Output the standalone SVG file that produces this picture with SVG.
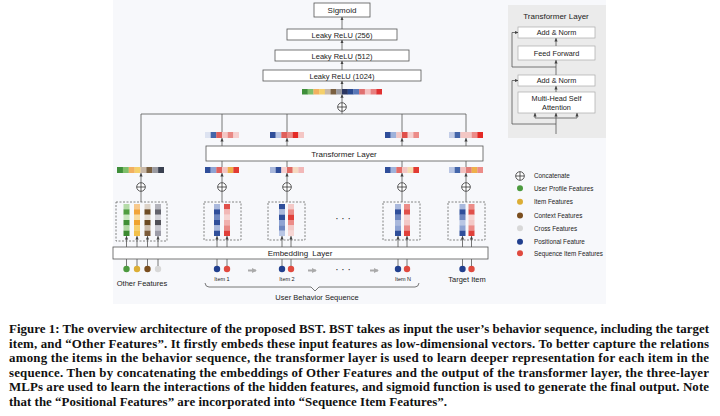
<svg xmlns="http://www.w3.org/2000/svg" width="720" height="416" viewBox="0 0 720 416">
<defs>
<marker id="ah" viewBox="0 0 6 6" refX="5.5" refY="3" markerWidth="3.6" markerHeight="3.6" markerUnits="userSpaceOnUse" orient="auto"><path d="M0,0.3 L6,3 L0,5.7 z" fill="#444"/></marker>
<marker id="ga" viewBox="0 0 6 6" refX="5" refY="3" markerWidth="5" markerHeight="5" markerUnits="userSpaceOnUse" orient="auto"><path d="M0,0 L6,3 L0,6 z" fill="#aaa"/></marker>
<g id="cat"><circle r="4.3" fill="#fff" stroke="#333" stroke-width="0.8"/><path d="M-4.3,0 H4.3 M0,-4.3 V4.3" stroke="#333" stroke-width="0.8"/></g>
</defs>
<style>
.sans{font-family:"Liberation Sans",Arial,sans-serif;fill:#222}
.box{fill:#fff;stroke:#555;stroke-width:0.8}
.tbox{fill:#fff;stroke:#aaa;stroke-width:0.7}
.ln{fill:none;stroke:#555;stroke-width:0.8}
.ar{fill:none;stroke:#555;stroke-width:0.8;marker-end:url(#ah)}
.dash{fill:none;stroke:#666;stroke-width:0.8;stroke-dasharray:2,1.5}
.cap{font-family:"Liberation Serif","Times New Roman",serif;font-weight:bold;font-size:12.9px;fill:#111}
</style>
<rect x="0" y="0" width="720" height="416" fill="#fff"/>
<rect x="113" y="0" width="493" height="304" fill="#f7f8fb"/>

<!-- MLP stack -->
<g id="sigmoid"><rect class="box" x="314" y="3" width="56" height="14"/><text class="sans" x="342" y="13" font-size="8" text-anchor="middle">Sigmoid</text></g>
<g id="relu256"><rect class="box" x="287" y="29" width="110" height="11"/><text class="sans" x="342" y="37.5" font-size="7.5" text-anchor="middle">Leaky ReLU (256)</text></g>
<g id="relu512"><rect class="box" x="275" y="50" width="134" height="11"/><text class="sans" x="342" y="58.5" font-size="7.5" text-anchor="middle">Leaky ReLU (512)</text></g>
<g id="relu1024"><rect class="box" x="263" y="70" width="158" height="11"/><text class="sans" x="342" y="78.5" font-size="7.5" text-anchor="middle">Leaky ReLU (1024)</text></g>
<g id="concatbar" transform="translate(302,89)">
<rect x="0" width="5.9" height="5.5" fill="#3f8f3a"/><rect x="5.71" width="5.9" height="5.5" fill="#7fbf6a"/><rect x="11.43" width="5.9" height="5.5" fill="#f2b060"/><rect x="17.14" width="5.9" height="5.5" fill="#f5d06a"/><rect x="22.86" width="5.9" height="5.5" fill="#c8b8a8"/><rect x="28.57" width="5.9" height="5.5" fill="#7a6040"/><rect x="34.29" width="5.9" height="5.5" fill="#9a9aa0"/><rect x="40" width="5.9" height="5.5" fill="#2a3560"/><rect x="45.71" width="5.9" height="5.5" fill="#2a4a90"/><rect x="51.43" width="5.9" height="5.5" fill="#5a78b8"/><rect x="57.14" width="5.9" height="5.5" fill="#e07070"/><rect x="62.86" width="5.9" height="5.5" fill="#f5c0c0"/><rect x="68.57" width="5.9" height="5.5" fill="#e88080"/><rect x="74.29" width="5.7" height="5.5" fill="#e03030"/>
</g>
<g id="topconcat"><use href="#cat" x="342" y="107"/></g>

<!-- Transformer layer (middle) -->
<g id="transformer"><rect class="box" x="206" y="146" width="277" height="15"/><text class="sans" x="344" y="156.5" font-size="8" text-anchor="middle">Transformer Layer</text></g>

<!-- top bars (transformer output) -->
<g id="out1" transform="translate(205,132)">
<rect x="0" width="5.8" height="6" fill="#dde3f1"/><rect x="5.67" width="5.8" height="6" fill="#4466aa"/><rect x="11.33" width="5.8" height="6" fill="#e0605c"/><rect x="17" width="5.8" height="6" fill="#f4c6c4"/><rect x="22.67" width="5.8" height="6" fill="#e98985"/><rect x="28.33" width="5.67" height="6" fill="#f6d0cf"/>
</g>
<g id="out2" transform="translate(270,132)">
<rect x="0" width="5.8" height="6" fill="#2f4e9a"/><rect x="5.67" width="5.8" height="6" fill="#b9c6e4"/><rect x="11.33" width="5.8" height="6" fill="#e0605c"/><rect x="17" width="5.8" height="6" fill="#e98985"/><rect x="22.67" width="5.8" height="6" fill="#e42a25"/><rect x="28.33" width="5.67" height="6" fill="#f4c6c4"/>
</g>
<g id="outN" transform="translate(385,132)">
<rect x="0" width="5.8" height="6" fill="#2f4e9a"/><rect x="5.67" width="5.8" height="6" fill="#9fb2da"/><rect x="11.33" width="5.8" height="6" fill="#f3c7c4"/><rect x="17" width="5.8" height="6" fill="#e0504a"/><rect x="22.67" width="5.8" height="6" fill="#f6d0cf"/><rect x="28.33" width="5.67" height="6" fill="#ec8c88"/>
</g>
<g id="outT" transform="translate(449,132)">
<rect x="0" width="5.8" height="6" fill="#c3cde7"/><rect x="5.67" width="5.8" height="6" fill="#4466aa"/><rect x="11.33" width="5.8" height="6" fill="#f3c7c4"/><rect x="17" width="5.8" height="6" fill="#f3c7c4"/><rect x="22.67" width="5.8" height="6" fill="#ec8c88"/><rect x="28.33" width="5.67" height="6" fill="#e42a25"/>
</g>

<!-- bottom bars (inputs to transformer) -->
<g id="otherbar" transform="translate(117,167)">
<rect x="0" width="6" height="6" fill="#3f8f3a"/><rect x="5.875" width="6" height="6" fill="#7fbf6a"/><rect x="11.75" width="6" height="6" fill="#f2b060"/><rect x="17.625" width="6" height="6" fill="#f5d06a"/><rect x="23.5" width="6" height="6" fill="#c8b8a8"/><rect x="29.375" width="6" height="6" fill="#7a6040"/><rect x="35.25" width="6" height="6" fill="#9a9aa0"/><rect x="41.125" width="5.875" height="6" fill="#3a4050"/>
</g>
<g id="in1" transform="translate(205,167)">
<rect x="0" width="5.8" height="6" fill="#2f4e9a"/><rect x="5.67" width="5.8" height="6" fill="#8ea3d3"/><rect x="11.33" width="5.8" height="6" fill="#e0605c"/><rect x="17" width="5.8" height="6" fill="#f3c4c2"/><rect x="22.67" width="5.8" height="6" fill="#eeb04a"/><rect x="28.33" width="5.67" height="6" fill="#e23b32"/>
</g>
<g id="in2" transform="translate(270,167)">
<rect x="0" width="5.8" height="6" fill="#a9b8dc"/><rect x="5.67" width="5.8" height="6" fill="#2f4e9a"/><rect x="11.33" width="5.8" height="6" fill="#f6d0cf"/><rect x="17" width="5.8" height="6" fill="#e06a64"/><rect x="22.67" width="5.8" height="6" fill="#f6d9c0"/><rect x="28.33" width="5.67" height="6" fill="#f2b8b8"/>
</g>
<g id="inN" transform="translate(385,167)">
<rect x="0" width="5.8" height="6" fill="#2f4e9a"/><rect x="5.67" width="5.8" height="6" fill="#9fb2da"/><rect x="11.33" width="5.8" height="6" fill="#e46b66"/><rect x="17" width="5.8" height="6" fill="#f3c7c4"/><rect x="22.67" width="5.8" height="6" fill="#f5ddb0"/><rect x="28.33" width="5.67" height="6" fill="#e23b32"/>
</g>
<g id="inT" transform="translate(449,167)">
<rect x="0" width="5.8" height="6" fill="#b9c6e4"/><rect x="5.67" width="5.8" height="6" fill="#4466aa"/><rect x="11.33" width="5.8" height="6" fill="#f2c0be"/><rect x="17" width="5.8" height="6" fill="#e27d79"/><rect x="22.67" width="5.8" height="6" fill="#eeb04a"/><rect x="28.33" width="5.67" height="6" fill="#ec8c88"/>
</g>

<!-- concat nodes -->
<g id="cat-other"><use href="#cat" x="141" y="187"/></g>
<g id="cat-1"><use href="#cat" x="222" y="187"/></g>
<g id="cat-2"><use href="#cat" x="287" y="187"/></g>
<g id="cat-N"><use href="#cat" x="402" y="187"/></g>
<g id="cat-T"><use href="#cat" x="466" y="187"/></g>

<!-- embedding groups -->
<g id="emb-other">
<rect class="dash" x="116" y="202" width="51" height="39"/>
<g transform="translate(123.5,204)"><rect y="0" width="6" height="5.5" fill="#b5dba8"/><rect y="5.33" width="6" height="5.5" fill="#4f9d40"/><rect y="10.67" width="6" height="5.5" fill="#c9e6bf"/><rect y="16" width="6" height="5.5" fill="#3f8f35"/><rect y="21.33" width="6" height="5.5" fill="#b0d8a2"/><rect y="26.67" width="6" height="5.33" fill="#3b8a30"/></g>
<g transform="translate(134,204)"><rect y="0" width="6" height="5.5" fill="#f7c98d"/><rect y="5.33" width="6" height="5.5" fill="#f1a43a"/><rect y="10.67" width="6" height="5.5" fill="#f9dca0"/><rect y="16" width="6" height="5.5" fill="#efa32f"/><rect y="21.33" width="6" height="5.5" fill="#f7cf6c"/><rect y="26.67" width="6" height="5.33" fill="#f2c04a"/></g>
<g transform="translate(144.5,204)"><rect y="0" width="6" height="5.5" fill="#ddd3c8"/><rect y="5.33" width="6" height="5.5" fill="#6e4c25"/><rect y="10.67" width="6" height="5.5" fill="#e3dcd3"/><rect y="16" width="6" height="5.5" fill="#6b4a22"/><rect y="21.33" width="6" height="5.5" fill="#cbbcab"/><rect y="26.67" width="6" height="5.33" fill="#7c5c3b"/></g>
<g transform="translate(155,204)"><rect y="0" width="6" height="5.5" fill="#b4b4bc"/><rect y="5.33" width="6" height="5.5" fill="#62626c"/><rect y="10.67" width="6" height="5.5" fill="#d2d2d8"/><rect y="16" width="6" height="5.5" fill="#505058"/><rect y="21.33" width="6" height="5.5" fill="#c8c8d0"/><rect y="26.67" width="6" height="5.33" fill="#9c9ca8"/></g>
</g>
<g id="emb-1">
<rect class="dash" x="204" y="202" width="37" height="38"/>
<g transform="translate(214,204)"><rect y="0" width="6" height="5.5" fill="#a9b8dc"/><rect y="5.33" width="6" height="5.5" fill="#2f4e9a"/><rect y="10.67" width="6" height="5.5" fill="#6d86c0"/><rect y="16" width="6" height="5.5" fill="#2f4e9a"/><rect y="21.33" width="6" height="5.5" fill="#a9b8dc"/><rect y="26.67" width="6" height="5.33" fill="#2f4e9a"/></g>
<g transform="translate(224,204)"><rect y="0" width="6" height="5.5" fill="#e0504a"/><rect y="5.33" width="6" height="5.5" fill="#f2b8b6"/><rect y="10.67" width="6" height="5.5" fill="#f6d4d2"/><rect y="16" width="6" height="5.5" fill="#f1b0ad"/><rect y="21.33" width="6" height="5.5" fill="#e98985"/><rect y="26.67" width="6" height="5.33" fill="#e0403a"/></g>
</g>
<g id="emb-2">
<rect class="dash" x="268" y="202" width="37" height="38"/>
<g transform="translate(279,204)"><rect y="0" width="6" height="5.5" fill="#2f4e9a"/><rect y="5.33" width="6" height="5.5" fill="#a9b8dc"/><rect y="10.67" width="6" height="5.5" fill="#2f4e9a"/><rect y="16" width="6" height="5.5" fill="#8ea3d3"/><rect y="21.33" width="6" height="5.5" fill="#6d86c0"/><rect y="26.67" width="6" height="5.33" fill="#b9c6e4"/></g>
<g transform="translate(288,204)"><rect y="0" width="6" height="5.5" fill="#f3c9c7"/><rect y="5.33" width="6" height="5.5" fill="#ec8c88"/><rect y="10.67" width="6" height="5.5" fill="#e0403a"/><rect y="16" width="6" height="5.5" fill="#ec8c88"/><rect y="21.33" width="6" height="5.5" fill="#f3c9c7"/><rect y="26.67" width="6" height="5.33" fill="#f6d6d4"/></g>
</g>
<g id="emb-N">
<rect class="dash" x="383" y="202" width="37" height="38"/>
<g transform="translate(395,204)"><rect y="0" width="6" height="5.5" fill="#a9b8dc"/><rect y="5.33" width="6" height="5.5" fill="#2f4e9a"/><rect y="10.67" width="6" height="5.5" fill="#6d86c0"/><rect y="16" width="6" height="5.5" fill="#a9b8dc"/><rect y="21.33" width="6" height="5.5" fill="#8ea3d3"/><rect y="26.67" width="6" height="5.33" fill="#2f4e9a"/></g>
<g transform="translate(404,204)"><rect y="0" width="6" height="5.5" fill="#ec8c88"/><rect y="5.33" width="6" height="5.5" fill="#e0504a"/><rect y="10.67" width="6" height="5.5" fill="#f6d4d2"/><rect y="16" width="6" height="5.5" fill="#f3c9c7"/><rect y="21.33" width="6" height="5.5" fill="#ec8c88"/><rect y="26.67" width="6" height="5.33" fill="#e0403a"/></g>
</g>
<g id="emb-T">
<rect class="dash" x="448" y="202" width="37" height="38"/>
<g transform="translate(459.5,204)"><rect y="0" width="6" height="5.5" fill="#a9b8dc"/><rect y="5.33" width="6" height="5.5" fill="#2f4e9a"/><rect y="10.67" width="6" height="5.5" fill="#6d86c0"/><rect y="16" width="6" height="5.5" fill="#b9c6e4"/><rect y="21.33" width="6" height="5.5" fill="#8ea3d3"/><rect y="26.67" width="6" height="5.33" fill="#2f4e9a"/></g>
<g transform="translate(468.5,204)"><rect y="0" width="6" height="5.5" fill="#ec8c88"/><rect y="5.33" width="6" height="5.5" fill="#e0504a"/><rect y="10.67" width="6" height="5.5" fill="#f6d4d2"/><rect y="16" width="6" height="5.5" fill="#f3c9c7"/><rect y="21.33" width="6" height="5.5" fill="#ec8c88"/><rect y="26.67" width="6" height="5.33" fill="#e0403a"/></g>
</g>
<text class="sans" x="343" y="222" font-size="10" text-anchor="middle">· · ·</text>

<!-- embedding layer -->
<g id="embedding"><rect class="box" x="113" y="247" width="375" height="12"/><text class="sans" x="300" y="256" font-size="8" text-anchor="middle" word-spacing="2">Embedding Layer</text></g>

<!-- input feature dots -->
<g id="inputs">
<circle cx="126.5" cy="269" r="3.2" fill="#4c9a3e"/><circle cx="137" cy="269" r="3.2" fill="#dcae35"/><circle cx="147.5" cy="269" r="3.2" fill="#7a4e1e"/><circle cx="158" cy="269" r="3.2" fill="#d8d8d8"/>
<circle cx="217" cy="269" r="3.2" fill="#213f8e"/><circle cx="227" cy="269" r="3.2" fill="#e04a3f"/>
<circle cx="282" cy="269" r="3.2" fill="#213f8e"/><circle cx="291" cy="269" r="3.2" fill="#e04a3f"/>
<circle cx="398" cy="269" r="3.2" fill="#213f8e"/><circle cx="407" cy="269" r="3.2" fill="#e04a3f"/>
<circle cx="462.5" cy="269" r="3.2" fill="#213f8e"/><circle cx="471.5" cy="269" r="3.2" fill="#e04a3f"/>
</g>
<g id="seqarrows" fill="none" stroke="#aaa" stroke-width="2" marker-end="url(#ga)">
<path d="M248,270.5 H256"/><path d="M308,270.5 H316"/><path d="M370,270.5 H378"/>
</g>
<text class="sans" x="343" y="273" font-size="10" text-anchor="middle">· · ·</text>

<!-- labels -->
<text class="sans" x="142" y="285.5" font-size="7.5" text-anchor="middle">Other Features</text>
<text class="sans" x="222" y="280.5" font-size="5.5" text-anchor="middle">Item 1</text>
<text class="sans" x="287" y="280.5" font-size="5.5" text-anchor="middle">Item 2</text>
<text class="sans" x="403" y="280.5" font-size="5.5" text-anchor="middle">Item N</text>
<text class="sans" x="467" y="282" font-size="7.5" text-anchor="middle">Target Item</text>
<path class="ln" d="M205,283 Q205.5,287 209,287 H311 L315,291 L319,287 H415 Q418.5,287 419,283" stroke="#777"/>
<text class="sans" x="317" y="300" font-size="7.5" text-anchor="middle">User Behavior Sequence</text>

<!-- connectors -->
<g id="connectors">
<path class="ln" d="M141,114 H466"/>
<path class="ln" d="M342,114 V111.3"/>
<path class="ar" d="M342,102.7 V94.5"/>
<path class="ar" d="M342,89 V81"/>
<path class="ar" d="M342,70 V61"/>
<path class="ar" d="M342,50 V40"/>
<path class="ar" d="M342,29 V17"/>
<path class="ln" d="M141,114 V167"/>
<path class="ln" d="M222,114 V132 M287,114 V132 M402,114 V132 M466,114 V132"/>
<path class="ar" d="M222,146 V138.2"/><path class="ar" d="M287,146 V138.2"/><path class="ar" d="M402,146 V138.2"/><path class="ar" d="M466,146 V138.2"/>
<path class="ln" d="M222,161 V167 M287,161 V167 M402,161 V167 M466,161 V167"/>
<path class="ar" d="M141,182.7 V173.2"/><path class="ar" d="M222,182.7 V173.2"/><path class="ar" d="M287,182.7 V173.2"/><path class="ar" d="M402,182.7 V173.2"/><path class="ar" d="M466,182.7 V173.2"/>
<path class="ln" d="M141,191.3 V202 M222,191.3 V202 M287,191.3 V202 M402,191.3 V202 M466,191.3 V202"/>
<path class="ar" d="M126.5,247 V236.2"/><path class="ar" d="M137,247 V236.2"/><path class="ar" d="M147.5,247 V236.2"/><path class="ar" d="M158,247 V236.2"/>
<path class="ar" d="M217,247 V236.2"/><path class="ar" d="M227,247 V236.2"/>
<path class="ar" d="M282,247 V236.2"/><path class="ar" d="M291,247 V236.2"/>
<path class="ar" d="M398,247 V236.2"/><path class="ar" d="M407,247 V236.2"/>
<path class="ar" d="M462.5,247 V236.2"/><path class="ar" d="M471.5,247 V236.2"/>
<path class="ln" d="M126.5,259 V266 M137,259 V266 M147.5,259 V266 M158,259 V266 M217,259 V266 M227,259 V266 M282,259 V266 M291,259 V266 M398,259 V266 M407,259 V266 M462.5,259 V266 M471.5,259 V266"/>
</g>

<!-- Transformer layer detail panel -->
<g id="tl-panel">
<rect x="508" y="5" width="98" height="133" fill="#ebebeb"/>
<text class="sans" x="556" y="18.5" font-size="8" text-anchor="middle">Transformer Layer</text>
<rect class="tbox" x="518" y="27" width="77" height="11"/><text class="sans" x="556.5" y="35.3" font-size="7.3" text-anchor="middle">Add &amp; Norm</text>
<rect class="tbox" x="518" y="46" width="77" height="14"/><text class="sans" x="556.5" y="55.6" font-size="7.3" text-anchor="middle">Feed Forward</text>
<rect class="tbox" x="518" y="75" width="77" height="11"/><text class="sans" x="556.5" y="83.3" font-size="7.3" text-anchor="middle">Add &amp; Norm</text>
<rect class="tbox" x="518" y="92" width="77" height="21"/><text class="sans" x="556.5" y="100.6" font-size="7.3" text-anchor="middle">Multi-Head Self</text><text class="sans" x="556.5" y="109.6" font-size="7.3" text-anchor="middle">Attention</text>
<path class="ar" d="M556,46 V38.2"/>
<path class="ar" d="M556,75 V60.2"/>
<path class="ar" d="M556,92 V86.2"/>
<path class="ar" d="M556,67 H512 V32.5 H518"/>
<path class="ar" d="M556,134 V113.2"/>
<path class="ln" d="M535,118 H577"/>
<path class="ar" d="M535,118 V113.2"/><path class="ar" d="M577,118 V113.2"/>
<path class="ar" d="M556,124 H512 V80.5 H518"/>
</g>

<!-- legend -->
<g id="legend">
<use href="#cat" x="520" y="176"/><text class="sans" x="534" y="178.3" font-size="6.3">Concatenate</text>
<circle cx="520" cy="188.3" r="3" fill="#4c9a3e"/><text class="sans" x="534" y="190.5" font-size="6.3">User Profile Features</text>
<circle cx="520" cy="201.7" r="3" fill="#dcae35"/><text class="sans" x="534" y="203.9" font-size="6.3">Item Features</text>
<circle cx="520" cy="215.5" r="3" fill="#7a4e1e"/><text class="sans" x="534" y="217.7" font-size="6.3">Context Features</text>
<circle cx="520" cy="228.3" r="3" fill="#d8d8d8"/><text class="sans" x="534" y="230.5" font-size="6.3">Cross Features</text>
<circle cx="520" cy="241.7" r="3" fill="#213f8e"/><text class="sans" x="534" y="243.9" font-size="6.3">Positional Feature</text>
<circle cx="520" cy="253.3" r="3" fill="#e04a3f"/><text class="sans" x="534" y="255.5" font-size="6.3">Sequence Item Features</text>
</g>

<!-- caption -->
<g id="caption">
<text class="cap" x="9" y="333" textLength="700" lengthAdjust="spacing">Figure 1: The overview architecture of the proposed BST. BST takes as input the user’s behavior sequence, including the target</text>
<text class="cap" x="9" y="347.6" textLength="700" lengthAdjust="spacing">item, and “Other Features”. It firstly embeds these input features as low-dimensional vectors. To better capture the relations</text>
<text class="cap" x="9" y="362.2" textLength="700" lengthAdjust="spacing">among the items in the behavior sequence, the transformer layer is used to learn deeper representation for each item in the</text>
<text class="cap" x="9" y="376.8" textLength="700" lengthAdjust="spacing">sequence. Then by concatenating the embeddings of Other Features and the output of the transformer layer, the three-layer</text>
<text class="cap" x="9" y="391.4" textLength="700" lengthAdjust="spacing">MLPs are used to learn the interactions of the hidden features, and sigmoid function is used to generate the final output. Note</text>
<text class="cap" x="9" y="406" textLength="438" lengthAdjust="spacing">that the “Positional Features” are incorporated into “Sequence Item Features”.</text>
</g>
</svg>
